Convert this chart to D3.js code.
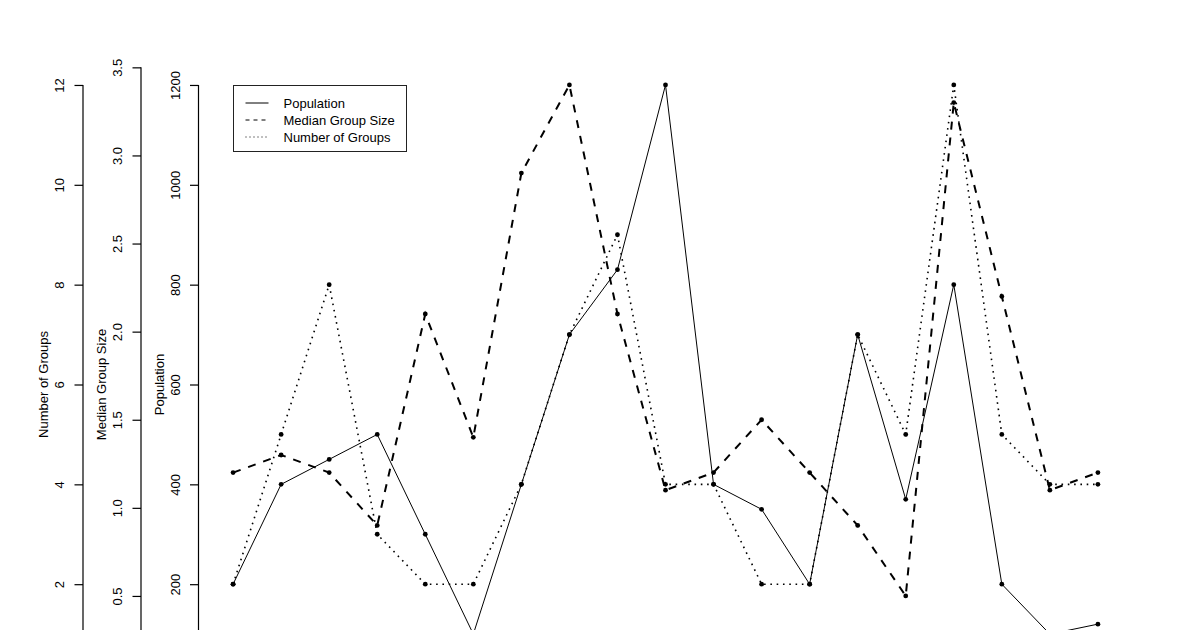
<!DOCTYPE html>
<html>
<head>
<meta charset="utf-8">
<script src="https://cdn.jsdelivr.net/npm/d3@7"></script>
<style>
  body { margin: 0; background: #fff; }
  text { font-family: "Liberation Sans", Arial, Helvetica, sans-serif; }
</style>
</head>
<body>
<div id="canvas"></div>
<script>
"use strict"

// canvas size, same as the window
let svgWidth = 1200;
let svgHeight = 630;

// plot region (R style: data range padded by 4% on each side)
let plotLeft = 198.5;
let plotRight = 1132.5;
let plotTop = 61;
let plotBottom = 708;

/* data, one value per time step */
let steps = [1, 2, 3, 4, 5, 6, 7, 8, 9, 10, 11, 12, 13, 14, 15, 16, 17, 18, 19];
let population = [200, 400, 450, 500, 300, 100, 400, 700, 830, 1200, 400, 350, 200, 700, 370, 800, 200, 100, 120];
let medianSize = [1.2, 1.3, 1.2, 0.9, 2.1, 1.4, 2.9, 3.4, 2.1, 1.1, 1.2, 1.5, 1.2, 0.9, 0.5, 3.3, 2.2, 1.1, 1.2];
let numGroups = [2, 5, 8, 3, 2, 2, 4, 7, 9, 4, 4, 2, 2, 7, 5, 12, 5, 4, 4];

// tick labels of the three left axes (0 sits below the visible area)
let popTicks = [0, 200, 400, 600, 800, 1000, 1200];
let sizeTicks = [0, 0.5, 1.0, 1.5, 2.0, 2.5, 3.0, 3.5];
let groupTicks = [0, 2, 4, 6, 8, 10, 12];

let legendLabels = ["Population", "Median Group Size", "Number of Groups"];

let svg = d3.select("#canvas")
    .append("svg")
    .attr("width", svgWidth)
    .attr("height", svgHeight);

/* pads a [0, max] range the way R does with ylim = c(0, max) */
function padded(lo, hi) {
    let d = (hi - lo) * 0.04;
    return [lo - d, hi + d];
}

let xScale = d3.scaleLinear()
    .domain(padded(1, 19))
    .range([plotLeft, plotRight]);

let popScale = d3.scaleLinear()
    .domain(padded(0, d3.max(population)))
    .range([plotBottom, plotTop]);

let sizeScale = d3.scaleLinear()
    .domain(padded(0, d3.max(medianSize)))
    .range([plotBottom, plotTop]);

let groupScale = d3.scaleLinear()
    .domain(padded(0, d3.max(numGroups)))
    .range([plotBottom, plotTop]);

/* draws one left axis: line only between first and last tick, labels turned like R's las=0 */
function drawAxis(xPos, scale, ticks, fmt, title) {
    let g = svg.append("g")
        .attr("transform", "translate(" + xPos + ",0)")
        .call(d3.axisLeft(scale).tickValues(ticks).tickFormat(fmt).tickSize(8.5).tickSizeOuter(0));

    g.select(".domain").remove();
    g.selectAll(".tick line").attr("stroke", "#000").attr("stroke-width", 1.2);
    g.selectAll(".tick text")
        .attr("transform", "rotate(-90)")
        .attr("x", 0)
        .attr("y", -23.5)
        .attr("dy", null)
        .attr("text-anchor", "middle")
        .attr("dominant-baseline", "central")
        .attr("font-size", 13)
        .attr("fill", "#000");

    // labels that fall below the picture edge are not shown in the reference
    g.selectAll(".tick")
        .filter(function (d) { return scale(d) > svgHeight - 10; })
        .select("text")
        .remove();

    g.append("line")
        .attr("y1", scale(ticks[0]))
        .attr("y2", scale(ticks[ticks.length - 1]))
        .attr("stroke", "#000")
        .attr("stroke-width", 1.2);

    g.append("text")
        .attr("transform", "translate(-39.5," + ((plotTop + plotBottom) / 2) + ") rotate(-90)")
        .attr("text-anchor", "middle")
        .attr("dominant-baseline", "central")
        .attr("font-size", 13)
        .attr("fill", "#000")
        .text(title);
}

drawAxis(83, groupScale, groupTicks, d3.format("d"), "Number of Groups");
drawAxis(141, sizeScale, sizeTicks, d3.format(".1f"), "Median Group Size");
drawAxis(plotLeft, popScale, popTicks, d3.format("d"), "Population");

/* series styling: solid thin, dashed thick, dotted */
let series = [
    { values: population, scale: popScale, width: 1, dash: null },
    { values: medianSize, scale: sizeScale, width: 2, dash: "8,8" },
    { values: numGroups, scale: groupScale, width: 1.6, dash: "1.6,4.7" }
];

series.forEach(function (s) {
    let line = d3.line()
        .x(function (d, i) { return xScale(steps[i]); })
        .y(function (d) { return s.scale(d); });

    svg.append("path")
        .datum(s.values)
        .attr("d", line)
        .attr("fill", "none")
        .attr("stroke", "#000")
        .attr("stroke-width", s.width)
        .attr("stroke-dasharray", s.dash);

    svg.append("g")
        .selectAll("circle")
        .data(s.values)
        .join("circle")
        .attr("cx", function (d, i) { return xScale(steps[i]); })
        .attr("cy", function (d) { return s.scale(d); })
        .attr("r", 2.4)
        .attr("fill", "#000");
});

/* legend box top left, lines drawn at lwd 1 */
let legendX = 233.5;
let legendY = 85.5;
let legendRow = 17;
let legendDash = [null, "4,4", "1,3"];

svg.append("rect")
    .attr("x", legendX)
    .attr("y", legendY)
    .attr("width", 173)
    .attr("height", 66)
    .attr("fill", "#fff")
    .attr("stroke", "#222")
    .attr("stroke-width", 1);

for (let i = 0; i < legendLabels.length; i++) {
    let rowY = legendY + 17.5 + i * legendRow;
    svg.append("line")
        .attr("x1", legendX + 12)
        .attr("x2", legendX + 35)
        .attr("y1", rowY)
        .attr("y2", rowY)
        .attr("stroke", "#000")
        .attr("stroke-width", 1)
        .attr("stroke-dasharray", legendDash[i]);
    svg.append("text")
        .attr("x", legendX + 50)
        .attr("y", rowY)
        .attr("dominant-baseline", "central")
        .attr("font-size", 13)
        .attr("fill", "#000")
        .text(legendLabels[i]);
}
</script>
</body>
</html>
